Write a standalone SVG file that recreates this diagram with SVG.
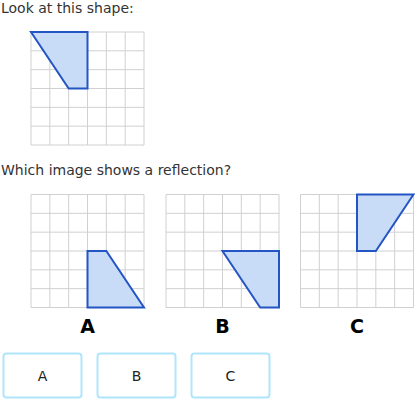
<svg xmlns="http://www.w3.org/2000/svg" width="415" height="400" viewBox="0 0 415 400">
<style>
.t{font-family:"DejaVu Sans",Verdana,sans-serif;font-size:14px;fill:#333}
.lbl{font-family:"DejaVu Sans",Verdana,sans-serif;font-size:19px;font-weight:bold;fill:#000;text-anchor:middle}
.g line{stroke:#d0d0d0;stroke-width:1}
.sh{fill:#c8dcf7;stroke:#2355c4;stroke-width:2;stroke-linejoin:miter}
.btn rect{fill:#fff;stroke:#b0e6fc;stroke-width:2}
.btn text{font-family:"DejaVu Sans",Verdana,sans-serif;font-size:14px;fill:#222;text-anchor:middle}
</style>
<defs>
<g id="grid" class="g">
<line x1="0" y1="0" x2="113" y2="0"/><line x1="0" y1="18.83" x2="113" y2="18.83"/><line x1="0" y1="37.67" x2="113" y2="37.67"/><line x1="0" y1="56.5" x2="113" y2="56.5"/><line x1="0" y1="75.33" x2="113" y2="75.33"/><line x1="0" y1="94.17" x2="113" y2="94.17"/><line x1="0" y1="113" x2="113" y2="113"/>
<line x1="0" y1="0" x2="0" y2="113"/><line x1="18.83" y1="0" x2="18.83" y2="113"/><line x1="37.67" y1="0" x2="37.67" y2="113"/><line x1="56.5" y1="0" x2="56.5" y2="113"/><line x1="75.33" y1="0" x2="75.33" y2="113"/><line x1="94.17" y1="0" x2="94.17" y2="113"/><line x1="113" y1="0" x2="113" y2="113"/>
</g>
</defs>
<rect width="415" height="400" fill="#fff"/>
<text class="t" x="1" y="13">Look at this shape:</text>
<g id="original" transform="translate(31,32)">
<use href="#grid"/>
<polygon class="sh" points="0,0 56.5,0 56.5,56.5 37.67,56.5"/>
</g>
<text class="t" x="1" y="175">Which image shows a reflection?</text>
<g id="optionA" transform="translate(31,194.5)">
<use href="#grid"/>
<polygon class="sh" points="56.5,56.5 75.33,56.5 113,113 56.5,113"/>
<text class="lbl" x="56.5" y="138">A</text>
</g>
<g id="optionB" transform="translate(166,194.5)">
<use href="#grid"/>
<polygon class="sh" points="56.5,56.5 113,56.5 113,113 94.17,113"/>
<text class="lbl" x="56.5" y="138">B</text>
</g>
<g id="optionC" transform="translate(300.5,194.5)">
<use href="#grid"/>
<polygon class="sh" points="56.5,0 113,0 75.33,56.5 56.5,56.5"/>
<text class="lbl" x="56.5" y="138">C</text>
</g>
<g id="btnA" class="btn"><rect x="3.5" y="353.5" width="78" height="44" rx="3"/><text x="42.5" y="381">A</text></g>
<g id="btnB" class="btn"><rect x="97.5" y="353.5" width="78" height="44" rx="3"/><text x="136.5" y="381">B</text></g>
<g id="btnC" class="btn"><rect x="191.5" y="353.5" width="78" height="44" rx="3"/><text x="230.5" y="381">C</text></g>
</svg>
